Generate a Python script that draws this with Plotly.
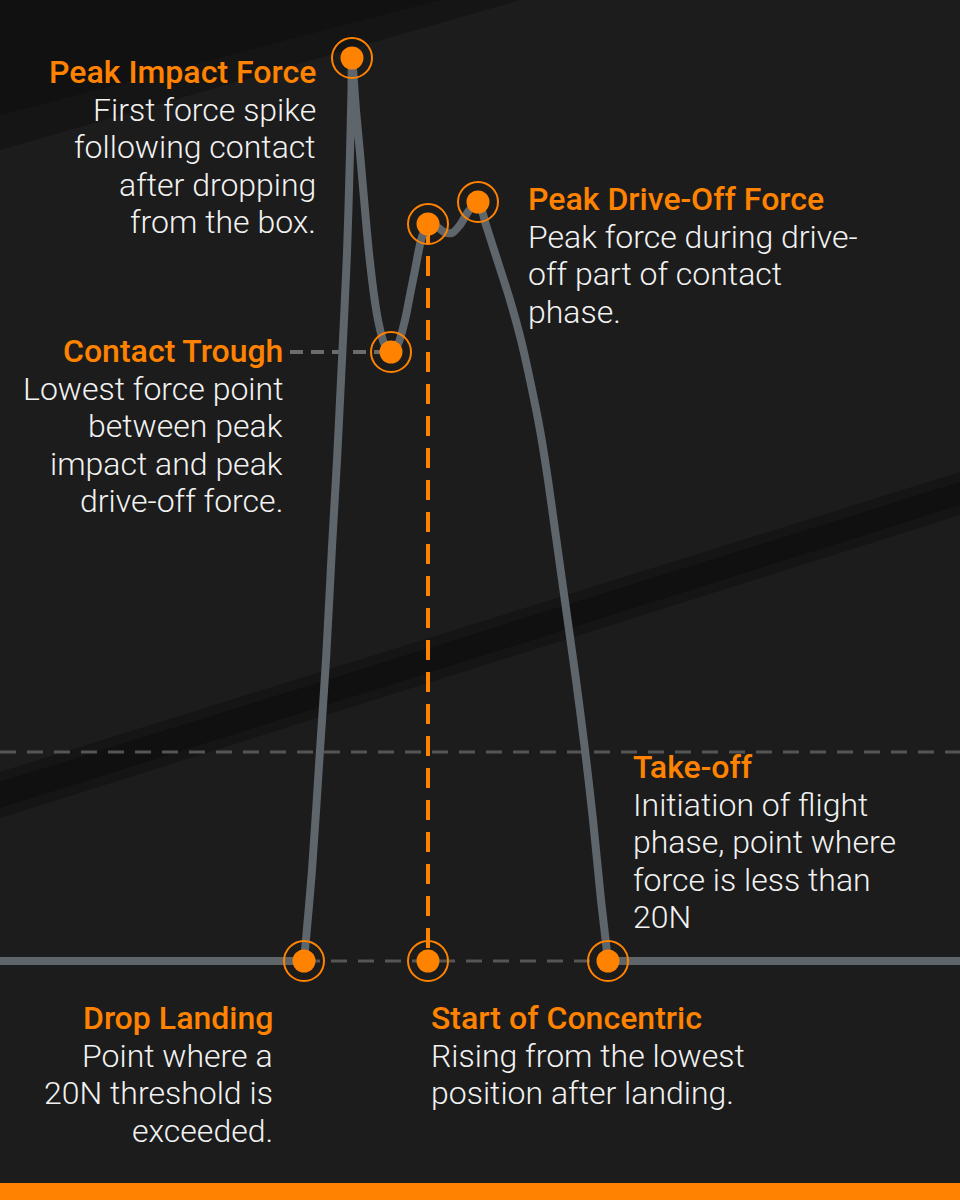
import plotly.graph_objects as go

# ---------------- data (time in ms from landing, vertical force in N) ----------------
time_ms = [0, 8, 16, 22, 28, 33, 37, 43, 46, 47.5, 48, 52, 56, 61, 65, 70, 74, 80, 87,
           94, 101, 106, 111, 118, 125, 132, 140, 148, 156, 164, 174, 182, 191, 206,
           217, 226, 236, 244, 251, 258, 265, 272, 281, 289, 297, 304]
force_n = [0, 455, 1055, 1505, 2070, 2505, 2905, 3540, 4040, 4355, 4515, 4255, 4040,
           3755, 3540, 3330, 3205, 3090, 3045, 3085, 3205, 3330, 3455, 3620, 3685,
           3675, 3645, 3640, 3680, 3745, 3795, 3680, 3540, 3305, 3105, 2905, 2655,
           2405, 2155, 1905, 1655, 1405, 1055, 705, 305, 0]

t_start, t_end = -304, 656          # quiet standing / flight portion shown
body_weight_n = 1045
threshold_n = 0

# events
ev_landing_t, ev_landing_f = 0, 0
ev_impact_t, ev_impact_f = 48, 4515
ev_trough_t, ev_trough_f = 87, 3045
ev_conc_t, ev_conc_f = 124, 3685
ev_drive_t, ev_drive_f = 174, 3795
ev_takeoff_t, ev_takeoff_f = 304, 0

curve_marker_t = [ev_impact_t, ev_trough_t, ev_conc_t, ev_drive_t]
curve_marker_f = [ev_impact_f, ev_trough_f, ev_conc_f, ev_drive_f]
base_marker_t = [ev_landing_t, ev_conc_t, ev_takeoff_t]
base_marker_f = [ev_landing_f, threshold_n, ev_takeoff_f]
trough_connector_t = [-14, ev_trough_t]

# text blocks: title, body lines
labels = {
    "impact": ("Peak Impact Force", ["First force spike", "following contact", "after dropping", "from the box."]),
    "drive": ("Peak Drive-Off Force", ["Peak force during drive-", "off part of contact", "phase."]),
    "trough": ("Contact Trough", ["Lowest force point", "between peak", "impact and peak", "drive-off force."]),
    "takeoff": ("Take-off", ["Initiation of flight", "phase, point where", "force is less than", "20N"]),
    "landing": ("Drop Landing", ["Point where a", "20N threshold is", "exceeded."]),
    "concentric": ("Start of Concentric", ["Rising from the lowest", "position after landing."]),
}

# ---------------- style ----------------
W, H = 960, 1200
BG = "#1c1c1c"
ORANGE = "#ff8300"
GREY = "#5e656b"
DASH_GREY = "#555555"
WHITE = "#f2f2f2"
FONT_TITLE = '"Roboto Medium", Roboto, sans-serif'
FONT_BODY = '"Roboto Light", Roboto, sans-serif'
FS = 32
LINE_H = 37.5

Y_TOP = 4805
Y_BOT = -1195

fig = go.Figure()

# baseline (quiet + flight)
fig.add_trace(go.Scatter(x=[t_start, ev_landing_t], y=[threshold_n, threshold_n], mode="lines",
                         line=dict(color=GREY, width=8), hoverinfo="skip"))
fig.add_trace(go.Scatter(x=[ev_takeoff_t, t_end], y=[threshold_n, threshold_n], mode="lines",
                         line=dict(color=GREY, width=8), hoverinfo="skip"))
# dashed threshold between landing and take-off
fig.add_trace(go.Scatter(x=[ev_landing_t, ev_takeoff_t], y=[threshold_n, threshold_n], mode="lines",
                         line=dict(color=DASH_GREY, width=3, dash="16px,11px"), hoverinfo="skip"))
# body-weight dashed line
fig.add_trace(go.Scatter(x=[t_start, t_end], y=[body_weight_n, body_weight_n], mode="lines",
                         line=dict(color=DASH_GREY, width=3, dash="16px,11px"), hoverinfo="skip"))
# trough connector
fig.add_trace(go.Scatter(x=trough_connector_t, y=[ev_trough_f, ev_trough_f], mode="lines",
                         line=dict(color="#6c6c6c", width=4, dash="13px,8px"), hoverinfo="skip"))
# start of concentric vertical
fig.add_trace(go.Scatter(x=[ev_conc_t, ev_conc_t], y=[ev_conc_f, threshold_n], mode="lines",
                         line=dict(color=ORANGE, width=4, dash="20px,12px"), hoverinfo="skip"))
# force curve
fig.add_trace(go.Scatter(x=time_ms, y=force_n, mode="lines",
                         line=dict(color=GREY, width=8, shape="spline", smoothing=0.8),
                         hoverinfo="skip"))
# markers
all_t = curve_marker_t + base_marker_t
all_f = curve_marker_f + base_marker_f
fig.add_trace(go.Scatter(x=all_t, y=all_f, mode="markers",
                         marker=dict(symbol="circle-open", size=40, color=ORANGE,
                                     line=dict(width=2, color=ORANGE)), hoverinfo="skip"))
fig.add_trace(go.Scatter(x=all_t, y=all_f, mode="markers",
                         marker=dict(symbol="circle", size=23, color=ORANGE,
                                     line=dict(width=0)), hoverinfo="skip"))


def px(x):
    return x / W


def py(y):
    return 1 - y / H


annotations = []


def block(key, x, align, baseline):
    title, lines = labels[key]
    anchor = "right" if align == "right" else "left"
    c = baseline - 0.343 * FS
    annotations.append(dict(x=px(x), y=py(c), xref="paper", yref="paper", text=title,
                            showarrow=False, xanchor=anchor, yanchor="middle", align=align,
                            borderpad=0, borderwidth=0,
                            font=dict(family=FONT_TITLE, size=FS, color=ORANGE, weight=500)))
    for i, ln in enumerate(lines):
        cc = c + (i + 1) * LINE_H
        annotations.append(dict(x=px(x), y=py(cc), xref="paper", yref="paper", text=ln,
                                showarrow=False, xanchor=anchor, yanchor="middle", align=align,
                                borderpad=0, borderwidth=0,
                                font=dict(family=FONT_BODY, size=FS, color=WHITE, weight=300)))


block("impact", 316, "right", 83.3)
block("drive", 528, "left", 210)
block("trough", 283, "right", 362.3)
block("takeoff", 633, "left", 778.3)
block("landing", 273, "right", 1029)
block("concentric", 431, "left", 1029)

shapes = [
    # darker top-left corner
    dict(type="path", xref="paper", yref="paper", layer="below",
         path=f"M 0 1 L {px(520)} 1 L 0 {py(150)} Z", fillcolor="#151515", line=dict(width=0)),
    dict(type="path", xref="paper", yref="paper", layer="below",
         path=f"M 0 1 L {px(440)} 1 L 0 {py(115)} Z", fillcolor="#111111", line=dict(width=0)),
    # shadow band across plate
    dict(type="path", xref="paper", yref="paper", layer="below",
         path=f"M 0 {py(772)} L 1 {py(472)} L 1 {py(515)} L 0 {py(818)} Z",
         fillcolor="#151515", line=dict(width=0)),
    dict(type="path", xref="paper", yref="paper", layer="below",
         path=f"M 0 {py(782)} L 1 {py(482)} L 1 {py(505)} L 0 {py(808)} Z",
         fillcolor="#101010", line=dict(width=0)),
    # bottom orange band
    dict(type="rect", xref="paper", yref="paper", x0=0, x1=1, y0=0, y1=py(1183),
         fillcolor=ORANGE, line=dict(width=0), layer="above"),
]

fig.update_layout(
    width=W, height=H,
    margin=dict(l=0, r=0, t=0, b=0),
    paper_bgcolor=BG, plot_bgcolor="rgba(0,0,0,0)",
    showlegend=False,
    xaxis=dict(range=[t_start, t_end], visible=False, fixedrange=True),
    yaxis=dict(range=[Y_BOT, Y_TOP], visible=False, fixedrange=True),
    annotations=annotations,
    shapes=shapes,
)

fig.write_html(
    "out.html",
    config={"displayModeBar": False},
    post_script="document.body.style.margin='0';document.body.style.background='#1c1c1c';",
)
